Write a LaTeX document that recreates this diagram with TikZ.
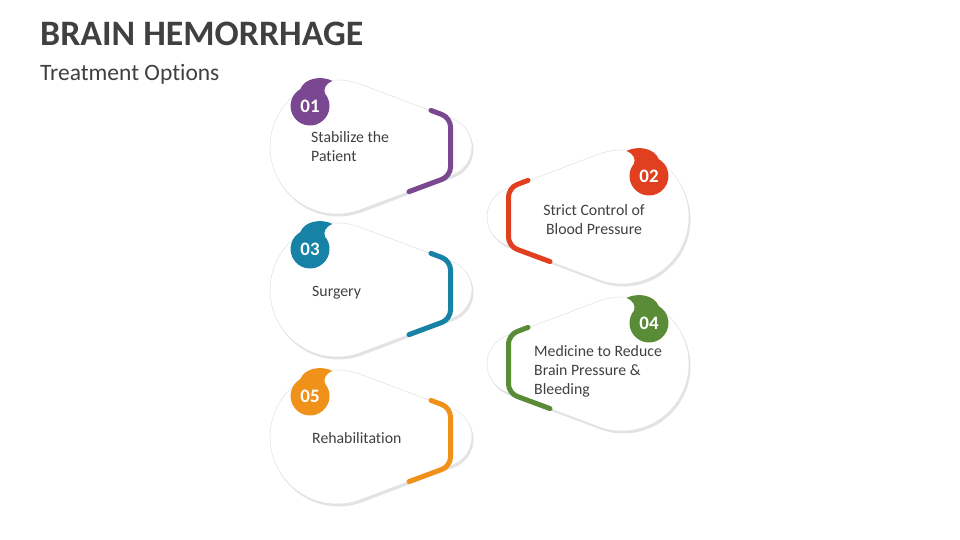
\documentclass[tikz,border=0pt]{standalone}
\usepackage{fontspec}
\setmainfont{Carlito}[Ligatures=NoCommon]
\usepackage{xcolor}
\usepackage{tikz}
\usetikzlibrary{shadows}
\definecolor{optpurple}{HTML}{7A4891}
\definecolor{optred}{HTML}{E04020}
\definecolor{optteal}{HTML}{1582A6}
\definecolor{optgreen}{HTML}{5A8C38}
\definecolor{optorange}{HTML}{F0921A}
\definecolor{textgray}{HTML}{404040}

\begin{document}
\begin{tikzpicture}[
    x=1pt, y=1pt,
    shell/.style={fill=white, draw=black!12, line width=0.5pt, drop shadow={shadow xshift=1.5pt, shadow yshift=-2.5pt, opacity=0.22}},
    band/.style={line width=5pt, rounded corners=9pt, line cap=round},
    numtext/.style={text=white, inner sep=0pt, font=\bfseries\fontsize{19}{19}\selectfont},
    label/.style={text=textgray, inner sep=0pt, align=left, font=\fontsize{15.8}{19}\selectfont},
    pics/option/.style={code={
        \path[shell] (23.59,62.71) arc[start angle=69.4, end angle=290.6, radius=67]
            -- (115.55,-28.08) arc[start angle=-69.4, end angle=69.4, radius=30] -- cycle;
        \draw[band, #1] (94,36.6) -- (113.5,29.2) -- (113.5,-29.2) -- (72,-44.6);
        \begin{scope}[shift={(-27,41)}]
            \fill[#1] (40:19.5) arc[start angle=40, end angle=-240, radius=19.5]
                .. controls (-5,28.5) and (12,30.5) .. (22.5,25)
                .. controls (15,22) and (13.5,17) .. cycle;
        \end{scope}
    }}
]
\useasboundingbox (0,0) rectangle (960,540);

\node[anchor=base west, inner sep=0pt, text=textgray, font=\bfseries\fontsize{35.8}{36}\selectfont] (title) at (40,494) {BRAIN HEMORRHAGE};
\node[anchor=base west, inner sep=0pt, text=textgray, font=\fontsize{23.5}{24}\selectfont] (subtitle) at (40,459) {Treatment Options};

\pic at (337,393) {option=optpurple};
\pic[xscale=-1] at (622,323) {option=optred};
\pic at (337,250) {option=optteal};
\pic[xscale=-1] at (622,176) {option=optgreen};
\pic at (337,103) {option=optorange};

\node[numtext] (num01) at (310,434) {01};
\node[numtext] (num02) at (649,364) {02};
\node[numtext] (num03) at (310,291) {03};
\node[numtext] (num04) at (649,217) {04};
\node[numtext] (num05) at (310,144) {05};

\node[label, anchor=west] (stabilize) at (311,393) {Stabilize the\\Patient};
\node[label, align=center] (pressure) at (594,320) {Strict Control of\\Blood Pressure};
\node[label, anchor=west] (surgery) at (312,247) {Surgery};
\node[label, anchor=west] (medicine) at (534,169) {Medicine to Reduce\\Brain Pressure \&\\Bleeding};
\node[label, anchor=west] (rehab) at (312,102) {Rehabilitation};
\end{tikzpicture}
\end{document}
